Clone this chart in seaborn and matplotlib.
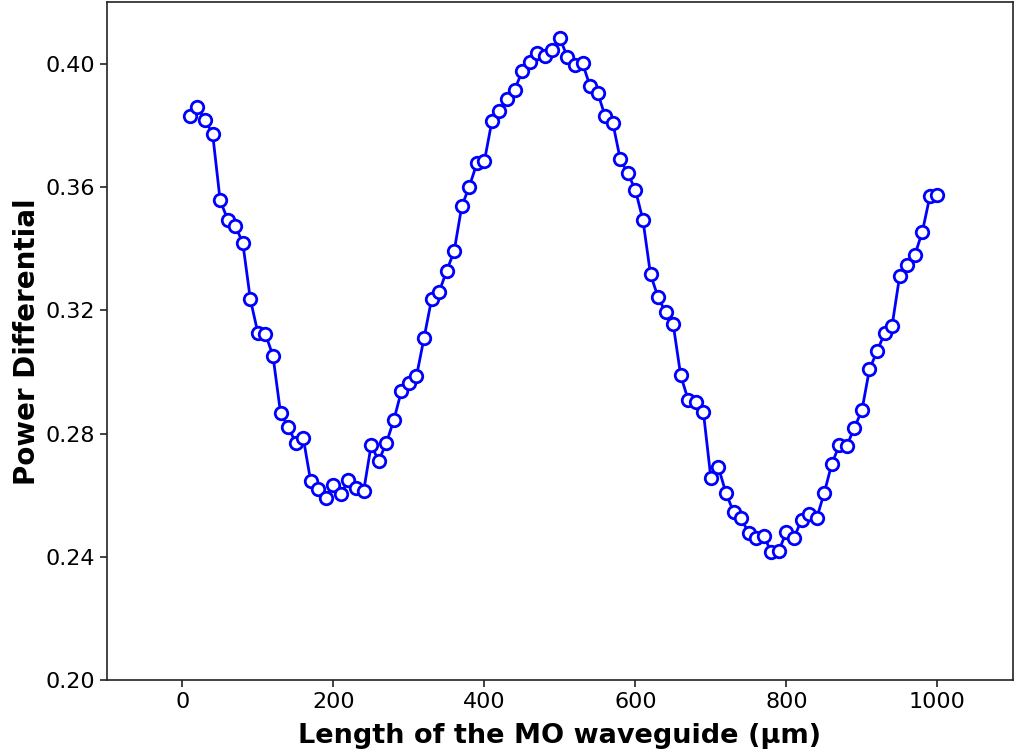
import matplotlib
matplotlib.use("Agg")
import matplotlib.pyplot as plt
import seaborn as sns
import pandas as pd
import numpy as np

# Data
length_um = [10, 20, 30, 40, 50, 60, 70, 80, 90, 100,
             110, 120, 130, 140, 150, 160, 170, 180, 190, 200,
             210, 220, 230, 240, 250, 260, 270, 280, 290, 300,
             310, 320, 330, 340, 350, 360, 370, 380, 390, 400,
             410, 420, 430, 440, 450, 460, 470, 480, 490, 500,
             510, 520, 530, 540, 550, 560, 570, 580, 590, 600,
             610, 620, 630, 640, 650, 660, 670, 680, 690, 700,
             710, 720, 730, 740, 750, 760, 770, 780, 790, 800,
             810, 820, 830, 840, 850, 860, 870, 880, 890, 900,
             910, 920, 930, 940, 950, 960, 970, 980, 990, 1000]

power_diff = [0.3830, 0.3860, 0.3817, 0.3774, 0.3557, 0.3495, 0.3475, 0.3419, 0.3236, 0.3127,
              0.3124, 0.3052, 0.2867, 0.2823, 0.2771, 0.2787, 0.2645, 0.2622, 0.2591, 0.2634,
              0.2605, 0.2651, 0.2624, 0.2613, 0.2763, 0.2712, 0.2769, 0.2844, 0.2938, 0.2965,
              0.2986, 0.3110, 0.3236, 0.3260, 0.3328, 0.3393, 0.3538, 0.3602, 0.3677, 0.3685,
              0.3815, 0.3847, 0.3887, 0.3916, 0.3976, 0.4005, 0.4034, 0.4025, 0.4045, 0.4083,
              0.4022, 0.3998, 0.4002, 0.3927, 0.3906, 0.3830, 0.3809, 0.3690, 0.3645, 0.3591,
              0.3493, 0.3317, 0.3243, 0.3194, 0.3156, 0.2989, 0.2909, 0.2904, 0.2871, 0.2655,
              0.2691, 0.2607, 0.2546, 0.2525, 0.2478, 0.2462, 0.2468, 0.2416, 0.2421, 0.2481,
              0.2462, 0.2520, 0.2539, 0.2525, 0.2607, 0.2701, 0.2763, 0.2761, 0.2819, 0.2876,
              0.3009, 0.3067, 0.3126, 0.3151, 0.3312, 0.3349, 0.3379, 0.3455, 0.3570, 0.3575]

y_ticks = [0.20, 0.24, 0.28, 0.32, 0.36, 0.40]
x_ticks = [0, 200, 400, 600, 800, 1000]

df = pd.DataFrame({"length": length_um, "power": power_diff})

sns.set_style("white")
plt.rcParams['font.family'] = ['DejaVu Sans']
plt.rcParams['text.color'] = 'black'
plt.rcParams['axes.labelcolor'] = 'black'

fig, ax = plt.subplots(figsize=(10.18, 7.55), dpi=100)
fig.subplots_adjust(left=0.105, right=0.995, bottom=0.099, top=0.997)

sns.lineplot(data=df, x="length", y="power", ax=ax, color="blue", linewidth=2,
             marker="o", markersize=9, markerfacecolor="white",
             markeredgecolor="blue", markeredgewidth=2)

ax.set_xlim(-100, 1100)
ax.set_ylim(0.20, 0.42)
ax.set_xticks(x_ticks)
ax.set_yticks(y_ticks)
ax.set_yticklabels([f"{t:.2f}" for t in y_ticks])
ax.tick_params(axis="both", labelsize=16, length=5, width=1.2, direction="out",
               bottom=True, left=True, color="#222222", labelcolor="black")
for s in ax.spines.values():
    s.set_color("#222222")
    s.set_linewidth(1.2)

ax.set_xlabel("Length of the MO waveguide (µm)", fontsize=19.5, fontweight="bold", labelpad=8)
ax.set_ylabel("Power Differential", fontsize=20, fontweight="bold", labelpad=3)

plt.savefig("out.png", dpi=100)
